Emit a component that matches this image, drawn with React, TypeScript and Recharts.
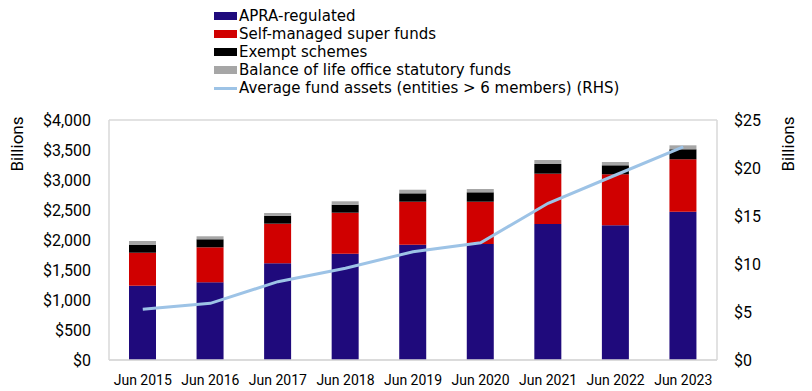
import React from 'react';
import { ComposedChart, Bar, Line, XAxis, YAxis, CartesianGrid, Legend } from 'recharts';

const categories = ['Jun 2015', 'Jun 2016', 'Jun 2017', 'Jun 2018', 'Jun 2019', 'Jun 2020', 'Jun 2021', 'Jun 2022', 'Jun 2023'];
const apra = [1238, 1295, 1611, 1772, 1922, 1933, 2267, 2245, 2472];
const smsf = [550, 583, 661, 683, 716, 705, 838, 850, 873];
const exempt = [134, 134, 133, 133, 140, 157, 162, 150, 167];
const lifeOffice = [61, 50, 45, 57, 60, 55, 66, 55, 66];
const avgAssets = [5.28, 5.9, 8.16, 9.55, 11.28, 12.22, 16.32, 19.27, 22.2];
const leftTicks = [0, 500, 1000, 1500, 2000, 2500, 3000, 3500, 4000];
const rightTicks = [0, 5, 10, 15, 20, 25];

const data = categories.map((c, i) => ({
  name: c,
  apra: apra[i],
  smsf: smsf[i],
  exempt: exempt[i],
  life: lifeOffice[i],
  avg: avgAssets[i],
}));

const legendItems = [
  { label: 'APRA-regulated', color: '#1F0A7C', type: 'rect' },
  { label: 'Self-managed super funds', color: '#D00000', type: 'rect' },
  { label: 'Exempt schemes', color: '#000000', type: 'rect' },
  { label: 'Balance of life office statutory funds', color: '#A6A6A6', type: 'rect' },
  { label: 'Average fund assets (entities > 6 members) (RHS)', color: '#9DC3E6', type: 'line' },
];

const LegendContent = () => (
  <div style={{ position: 'absolute', left: 214, top: 7, fontFamily: 'DejaVu Sans, sans-serif', fontSize: 15, color: '#000', lineHeight: '18px' }}>
    {legendItems.map((it) => (
      <div key={it.label} style={{ display: 'flex', alignItems: 'center', whiteSpace: 'nowrap' }}>
        {it.type === 'rect' ? (
          <span style={{ display: 'inline-block', width: 23, height: 8, background: it.color, marginRight: 2 }} />
        ) : (
          <span style={{ display: 'inline-block', width: 23, height: 3, background: it.color, marginRight: 2 }} />
        )}
        <span>{it.label}</span>
      </div>
    ))}
  </div>
);

const fmt = (v: number) => '$' + v.toLocaleString('en-US');
const axisFont = 'Roboto';

export default function App() {
  return (
    <div style={{ position: 'absolute', left: 0, top: 0, width: 812, height: 391, background: '#fff' }}>
      <ComposedChart width={812} height={391} data={data} margin={{ top: 120, right: 0, bottom: 0, left: 0 }}>
        <CartesianGrid vertical={false} stroke="#D9D9D9" strokeWidth={1.5} />
        <XAxis
          dataKey="name"
          height={31}
          tickLine={false}
          tickSize={0}
          tickMargin={15}
          axisLine={{ stroke: '#D9D9D9', strokeWidth: 1.5 }}
          tick={{ fill: '#000', fontSize: 14, fontFamily: axisFont }}
          interval={0}
        />
        <YAxis
          yAxisId="left"
          width={109}
          domain={[0, 4000]}
          ticks={leftTicks}
          tickFormatter={fmt}
          tickLine={false}
          tickSize={0}
          tickMargin={18}
          axisLine={{ stroke: '#D9D9D9', strokeWidth: 1.5 }}
          tick={{ fill: '#000', fontSize: 16, fontFamily: axisFont }}
          label={{ value: 'Billions', content: () => (
            <text x={17} y={144} transform="rotate(-90 17 144)" textAnchor="middle" dominantBaseline="central" fontSize={17} fontFamily={axisFont} fill="#000">Billions</text>
          ) }}
        />
        <YAxis
          yAxisId="right"
          orientation="right"
          width={95}
          domain={[0, 25]}
          ticks={rightTicks}
          tickFormatter={(v: number) => '$' + v}
          tickLine={false}
          tickSize={0}
          tickMargin={17}
          axisLine={{ stroke: '#D9D9D9', strokeWidth: 1.5 }}
          tick={{ fill: '#000', fontSize: 16, fontFamily: axisFont }}
          label={{ value: 'Billions', content: () => (
            <text x={788} y={144} transform="rotate(-90 788 144)" textAnchor="middle" dominantBaseline="central" fontSize={17} fontFamily={axisFont} fill="#000">Billions</text>
          ) }}
        />
        <Legend content={LegendContent} wrapperStyle={{ position: 'absolute', left: 0, top: 0, width: 812, height: 0 }} />
        <Bar yAxisId="left" dataKey="apra" stackId="a" fill="#1F0A7C" barSize={27} isAnimationActive={false} />
        <Bar yAxisId="left" dataKey="smsf" stackId="a" fill="#D00000" barSize={27} isAnimationActive={false} />
        <Bar yAxisId="left" dataKey="exempt" stackId="a" fill="#000000" barSize={27} isAnimationActive={false} />
        <Bar yAxisId="left" dataKey="life" stackId="a" fill="#A6A6A6" barSize={27} isAnimationActive={false} />
        <Line yAxisId="right" dataKey="avg" type="linear" stroke="#9DC3E6" strokeWidth={3} dot={false} isAnimationActive={false} />
      </ComposedChart>
    </div>
  );
}
